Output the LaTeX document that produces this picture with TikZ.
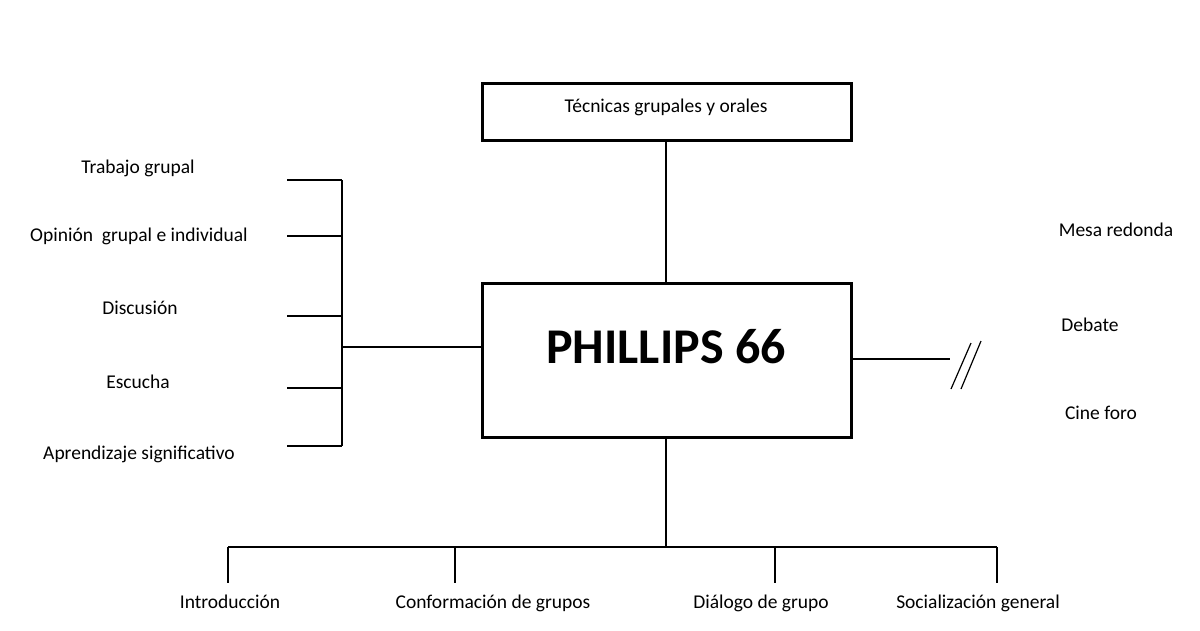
\documentclass[tikz,border=0pt]{standalone}
\usepackage{fontspec}
\setmainfont{Carlito}
\begin{document}
\begin{tikzpicture}[x=1pt,y=-1pt,
  box/.style={draw,line width=3pt},
  ln/.style={line width=1.2pt},
  lbl/.style={font=\fontsize{19.5}{22}\selectfont}]
\useasboundingbox (0,0) rectangle (1200,630);
\fill[white] (0,0) rectangle (1200,630);
\draw[box] (482,83) rectangle (851,140);
\node[lbl] (top) at (666,107) {Técnicas grupales y orales};
\coordinate (topb) at (666,140);
\draw[box] (482,283) rectangle (851,437);
\node[font=\bfseries\fontsize{50}{56}\selectfont] (main) at (666,347) {PHILLIPS 66};
\coordinate (maint) at (666,283);
\coordinate (mainb) at (666,437);
\coordinate (mainl) at (482,347);
\coordinate (mainr) at (851,359);
\draw[ln] (topb) -- (maint);
% left
\coordinate (lv) at (342,347);
\draw[ln] (mainl) -- (lv);
\draw[ln] (342,180) -- (342,446);
\foreach \y in {180,236,316,388,446} \draw[ln] (287,\y) -- (342,\y);
\node[lbl] (l1) at (138,168) {Trabajo grupal};
\node[lbl] (l2) at (139,236) {Opinión\ \ grupal e individual};
\node[lbl] (l3) at (140,308) {Discusión};
\node[lbl] (l4) at (138,382) {Escucha};
\node[lbl] (l5) at (139,454) {Aprendizaje significativo};
% right
\coordinate (re) at (950,359);
\draw[ln] (mainr) -- (re);
\draw[ln] (951,389) -- (971,343);
\draw[ln] (961,389) -- (981,341);
\node[lbl] (r1) at (1116,230) {Mesa redonda};
\node[lbl] (r2) at (1090,325) {Debate};
\node[lbl] (r3) at (1101,413) {Cine foro};
% bottom
\coordinate (bj) at (666,547);
\draw[ln] (mainb) -- (bj);
\draw[ln] (228,547) -- (997,547);
\foreach \x in {228,455,775,997} \draw[ln] (\x,547) -- (\x,583);
\node[lbl,anchor=base] (b1) at (230,608) {Introducción};
\node[lbl,anchor=base] (b2) at (493,608) {Conformación de grupos};
\node[lbl,anchor=base] (b3) at (761,608) {Diálogo de grupo};
\node[lbl,anchor=base] (b4) at (978,608) {Socialización general};
\end{tikzpicture}
\end{document}
